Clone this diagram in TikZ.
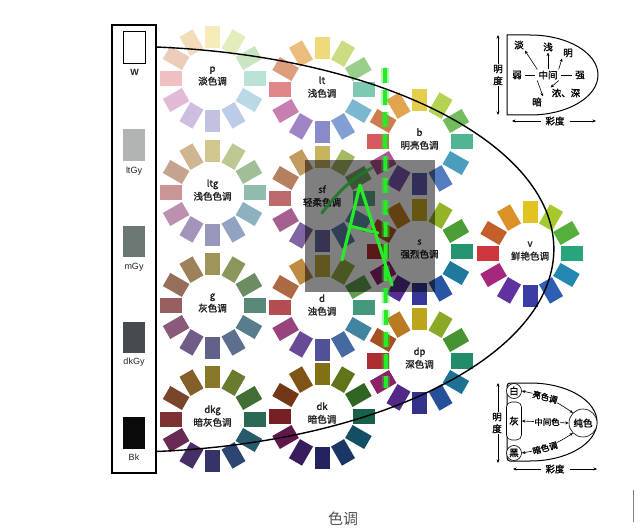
\documentclass[tikz,border=0pt]{standalone}
\usepackage{fontspec}
\setmainfont{Liberation Sans}
\newfontfamily\cjk{Noto Sans CJK SC}
\newfontfamily\cjkb[FakeBold=1.6]{Noto Sans CJK SC}
\usetikzlibrary{arrows.meta}
\definecolor{h0}{RGB}{225,195,35}
\definecolor{h1}{RGB}{165,200,45}
\definecolor{h2}{RGB}{85,175,60}
\definecolor{h3}{RGB}{40,165,125}
\definecolor{h4}{RGB}{35,135,175}
\definecolor{h5}{RGB}{45,95,180}
\definecolor{h6}{RGB}{60,60,165}
\definecolor{h7}{RGB}{95,50,160}
\definecolor{h8}{RGB}{165,40,125}
\definecolor{h9}{RGB}{205,55,60}
\definecolor{h10}{RGB}{195,95,40}
\definecolor{h11}{RGB}{220,145,40}
\definecolor{gA}{RGB}{200,200,200}
\definecolor{gB}{RGB}{165,165,165}
\definecolor{gC}{RGB}{120,120,120}
\definecolor{gD}{RGB}{125,125,125}
\definecolor{gE}{RGB}{45,45,45}
\definecolor{txt}{RGB}{35,35,35}
\definecolor{hl}{RGB}{40,235,40}
\definecolor{hldark}{RGB}{30,120,40}
\definecolor{swLt}{RGB}{178,180,180}
\definecolor{swM}{RGB}{108,118,115}
\definecolor{swDk}{RGB}{70,75,80}
\definecolor{swBk}{RGB}{10,10,10}
\newcommand\tonewheel[5]{%
  \foreach \k in {0,...,11}{%
    \fill[fill={h\k#3}, rotate around={-30*\k:(#1,#2)}] (#1-7.5,#2-53) rectangle (#1+7.5,#2-31);
  }%
  \node[wlabel] (#4) at (#1,#2-3) {#5};
}
\begin{document}
\begin{tikzpicture}[x=1pt,y=-1pt,
  wlabel/.style={align=center, text=txt, font=\cjkb\fontsize{9.5}{13}\selectfont},
  swlabel/.style={text=txt, font=\fontsize{9}{10}\selectfont},
  lg/.style={font=\cjkb\fontsize{9.5}{11}\selectfont, inner sep=1pt},
  lgarrow/.style={-{Stealth[length=3.5pt,width=3pt]}, line width=0.6pt},
  dblarrow/.style={{Stealth[length=3.5pt,width=3pt]}-{Stealth[length=3.5pt,width=3pt]}, line width=0.6pt},
  axislabel/.style={font=\cjkb\fontsize{9.5}{11}\selectfont, fill=white, inner sep=1pt, align=center}]
\useasboundingbox (0,0) rectangle (640,529);
\fill[white] (0,0) rectangle (640,529);

% grey scale bar
\draw[line width=1.4pt] (112,25) rectangle (156,473);
\node[draw, line width=0.8pt, fill=white, minimum width=22pt, minimum height=32pt, inner sep=0pt] (sW) at (134.5,47) {};
\node[fill=swLt, minimum width=22pt, minimum height=32pt, inner sep=0pt] (sLt) at (134,145) {};
\node[fill=swM, minimum width=22pt, minimum height=31pt, inner sep=0pt] (sM) at (134,241.5) {};
\node[fill=swDk, minimum width=22pt, minimum height=31pt, inner sep=0pt] (sDk) at (134,337.5) {};
\node[fill=swBk, minimum width=22pt, minimum height=32pt, inner sep=0pt] (sBk) at (134,433) {};
\node[swlabel, font=\bfseries\fontsize{9}{10}\selectfont] (lW) at (134.5,72) {W};
\node[swlabel] (lLt) at (134,171) {ltGy};
\node[swlabel] (lM) at (134,267) {mGy};
\node[swlabel] (lDk) at (134,362) {dkGy};
\node[swlabel] (lBk) at (134,457) {Bk};

% tone wheels
\tonewheel{212.5}{79}{!32!white}{wp}{p\\淡色调}
\tonewheel{322}{90}{!60!white}{wlt}{lt\\浅色调}
\tonewheel{419.5}{142}{!82!white}{wb}{b\\明亮色调}
\tonewheel{212.5}{193}{!35!gA}{wltg}{ltg\\浅色色调}
\tonewheel{322}{199}{!55!gB}{wsf}{sf\\轻柔色调}
\tonewheel{419.5}{252}{!90!black}{ws}{s\\强烈色调}
\tonewheel{530}{254}{}{wv}{v\\鲜艳色调}
\tonewheel{212.5}{306}{!38!gC}{wg}{g\\灰色调}
\tonewheel{322}{308}{!68!gD}{wd}{d\\浊色调}
\tonewheel{419.5}{361}{!84!black}{wdp}{dp\\深色调}
\tonewheel{212.5}{419}{!50!gE}{wdkg}{dkg\\暗灰色调}
\tonewheel{322}{416}{!58!black}{wdk}{dk\\暗色调}

% big boundary curve
\draw[line width=1.4pt] (156,47) arc[start angle=85.1, end angle=-85.1, x radius=435pt, y radius=203pt];

% dark overlay
\fill[black, opacity=0.5] (305,160) rectangle (435,292);

% green marks
\draw[hl, opacity=0.35, line width=8pt, dash pattern=on 15pt off 7pt] (385,68) -- (386,388);
\draw[hl, line width=4pt, dash pattern=on 15pt off 7pt] (385,68) -- (386,388);
\draw[hldark, line width=3pt, line cap=round, opacity=0.9] (322,213) .. controls (338,192) and (352,178) .. (372,168);
\draw[hl, line width=3.2pt, line cap=round, line join=round] (342,260) -- (360,185) -- (392,285);
\draw[hl, line width=3pt, line cap=round] (350,226) -- (378,233);

% legend 1 (top right)
\draw[line width=1pt] (530,35) -- (507,35) -- (507,115) -- (530,115) arc[start angle=-90, end angle=90, x radius=68pt, y radius=40pt];
\coordinate (m1t) at (498,35);
\coordinate (m1b) at (498,115);
\draw[dblarrow] (m1t) -- (m1b);
\node[axislabel, font=\cjkb\fontsize{9.5}{12}\selectfont] (m1) at (498,75) {明\\度};
\coordinate (c1l) at (512,121);
\coordinate (c1r) at (596,121);
\draw[dblarrow] (c1l) -- (c1r);
\node[axislabel, inner xsep=5pt] (c1) at (555,121) {彩度};
\node[lg] (mid) at (548,75) {中间};
\node[lg] (wk) at (517,75) {弱};
\node[lg] (st) at (580,75) {强};
\node[lg] (dan) at (519,45) {淡};
\node[lg] (qian) at (548,47) {浅};
\node[lg] (ming) at (568,53) {明};
\node[lg] (nong) at (566,93) {浓、深};
\node[lg] (an) at (537,102) {暗};
\draw[line width=0.6pt] ([xshift=2pt]wk.east) -- ([xshift=-2pt]mid.west);
\draw[line width=0.6pt] ([xshift=2pt]mid.east) -- ([xshift=-2pt]st.west);
\draw[lgarrow] (mid.north west) -- (dan.south east);
\draw[lgarrow] (mid.north) -- (qian.south);
\draw[lgarrow] (mid.north east) -- (ming.south west);
\draw[lgarrow] (mid.south east) -- (nong.north west);
\draw[lgarrow] (mid.south west) -- (an.north east);

% legend 2 (bottom right)
\draw[line width=1pt, rounded corners=3pt] (530,383) -- (507,383) -- (507,461) -- (530,461);
\draw[line width=1pt] (530,461) arc[start angle=-90, end angle=90, x radius=67pt, y radius=39pt];
\coordinate (m2t) at (498,383);
\coordinate (m2b) at (498,463);
\draw[dblarrow] (m2t) -- (m2b);
\node[axislabel, font=\cjkb\fontsize{9.5}{12}\selectfont] (m2) at (497,423) {明\\度};
\coordinate (c2l) at (513,469);
\coordinate (c2r) at (597,469);
\draw[dblarrow] (c2l) -- (c2r);
\node[axislabel, inner xsep=5pt] (c2) at (555,469) {彩度};
\node[lg, draw, circle, fill=white, minimum size=15pt, inner sep=0pt, line width=0.6pt] (bai) at (514,391) {白};
\node[lg, draw, rounded corners=5pt, fill=white, minimum width=15pt, minimum height=38pt, inner sep=0pt, line width=0.6pt] (hui) at (514,421) {灰};
\node[lg, draw, circle, fill=white, minimum size=15pt, inner sep=0pt, line width=0.6pt] (hei) at (514,453) {黑};
\node[lg, draw, circle, fill=white, minimum size=28pt, inner sep=0pt, line width=0.6pt] (chun) at (583,423) {纯色};
\draw[dblarrow] (bai.east) to[bend left=12] (chun.north west);
\draw[dblarrow] (hui.east) -- (chun.west);
\draw[dblarrow] (hei.east) to[bend right=12] (chun.south west);
\node[lg, fill=white, rotate=-15, inner sep=0.3pt, font=\cjkb\fontsize{8.5}{9}\selectfont] (lia) at (545,397) {亮色调};
\node[lg, fill=white, inner sep=0.3pt, font=\cjkb\fontsize{8.5}{9}\selectfont] (zj) at (547,422) {中间色};
\node[lg, fill=white, rotate=15, inner sep=0.3pt, font=\cjkb\fontsize{8.5}{9}\selectfont] (anl) at (545,448) {暗色调};

% bottom caption
\node[font=\cjk\fontsize{15}{16}\selectfont, text={rgb,255:red,80;green,80;blue,80}] (cap) at (343,519) {色调};
\coordinate (vl1) at (633,490);
\coordinate (vl2) at (633,522);
\draw[gray, line width=0.6pt] (vl1) -- (vl2);
\end{tikzpicture}
\end{document}
